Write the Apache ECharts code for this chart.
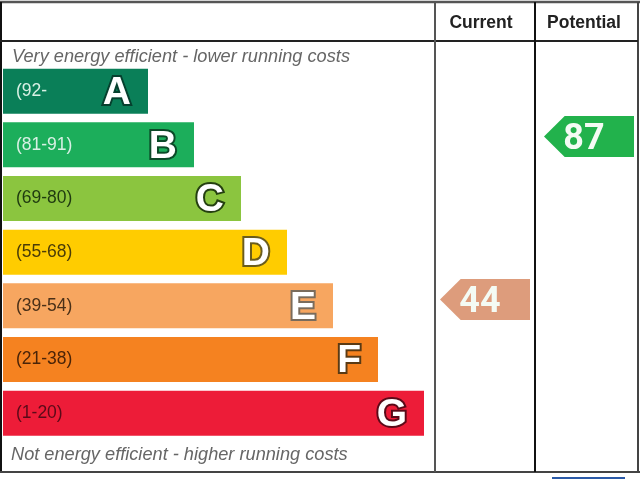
<!DOCTYPE html>
<html>
<head>
<meta charset="utf-8">
<style>
html, body { margin: 0; padding: 0; background: #fff; }
#chart { width: 640px; height: 479px; filter: blur(0.6px); }
</style>
<script src="https://cdn.jsdelivr.net/npm/echarts@6/dist/echarts.min.js"></script>
</head>
<body>
<div id="chart"></div>
<script>
// bands, top to bottom
var ranges = ['(92-', '(81-91)', '(69-80)', '(55-68)', '(39-54)', '(21-38)', '(1-20)'];
var letters = ['A', 'B', 'C', 'D', 'E', 'F', 'G'];
var barLengths = [145, 191, 238, 284, 330, 375, 421];
var bandColors = ['#0a7f58', '#1cae5b', '#8bc53f', '#ffcc00', '#f7a660', '#f58220', '#ed1c38'];
var rangeColors = ['#d8f0e4', '#d8f0e4', '#1f3a10', '#4a3c08', '#4a3018', '#4a2408', '#5a0a18'];
var letterEdges = ['#06402e', '#0b4a28', '#243f10', '#6a5c1c', '#7a6c5c', '#5a3a14', '#5a0a18'];

// rating columns
var columns = ['Current', 'Potential'];
var currentRating = [44, null];
var potentialRating = [null, 87];

var textTop = 'Very energy efficient - lower running costs';
var textBottom = 'Not energy efficient - higher running costs';

var arrow = 'path://M0,50 L23,0 L100,0 L100,100 L23,100 Z';
var frameDark = '#222';

var bars = [];
for (var i = 0; i < barLengths.length; i++) {
    bars.push({
        value: barLengths[i],
        itemStyle: {color: bandColors[i]},
        label: {textBorderColor: letterEdges[i]}
    });
}

function frameLine(x1, y1, x2, y2, color, width) {
    return {
        type: 'line',
        silent: true,
        shape: {x1: x1, y1: y1, x2: x2, y2: y2},
        style: {stroke: color, lineWidth: width}
    };
}

function ratingSeries(name, data, color, offsetX) {
    return {
        name: name,
        type: 'scatter',
        xAxisIndex: 1,
        yAxisIndex: 1,
        data: data,
        symbol: arrow,
        symbolSize: [90, 41],
        symbolOffset: [offsetX, 0],
        itemStyle: {color: color, opacity: 1},
        label: {
            show: true,
            position: 'inside',
            offset: [-5, 3],
            color: '#f4fbf4',
            fontFamily: 'Roboto, Liberation Sans',
            fontWeight: 'bold',
            fontSize: 36,
            formatter: function (p) { return p.value; }
        }
    };
}

var titleStyle = {fontFamily: 'Liberation Sans', fontStyle: 'italic', fontWeight: 'normal', fontSize: 18.2, color: '#666'};

var chart = echarts.init(document.getElementById('chart'), null, {renderer: 'canvas'});
chart.setOption({
    animation: false,
    backgroundColor: '#fff',
    title: [
        {text: textTop, left: 7, top: 43, textStyle: titleStyle},
        {text: textBottom, left: 6, top: 441, textStyle: titleStyle}
    ],
    grid: [
        {left: 3, top: 64.3, width: 432, height: 375.7},
        {left: 435, top: 2, width: 200, height: 470}
    ],
    xAxis: [
        {gridIndex: 0, type: 'value', min: 0, max: 432, show: false},
        {
            gridIndex: 1,
            type: 'category',
            position: 'top',
            data: columns,
            axisLine: {show: false},
            axisTick: {show: false},
            axisLabel: {
                inside: true,
                margin: 12,
                formatter: function (value, index) {
                    return '{h' + index + '|' + value + '}';
                },
                rich: {
                    h0: {color: '#222', fontFamily: 'Liberation Sans', fontWeight: 'bold', fontSize: 17.5, padding: [0, 8, 0, 0]},
                    h1: {color: '#222', fontFamily: 'Liberation Sans', fontWeight: 'bold', fontSize: 17.5, padding: [0, 2, 0, 0]}
                }
            },
            splitLine: {
                show: true,
                lineStyle: {color: ['#555', '#111', 'rgba(0,0,0,0)'], width: 2}
            }
        }
    ],
    yAxis: [
        {
            gridIndex: 0,
            type: 'category',
            inverse: true,
            data: ranges,
            z: 5,
            axisLine: {show: false},
            axisTick: {show: false},
            axisLabel: {
                inside: true,
                margin: 13,
                fontFamily: 'Liberation Sans',
                fontSize: 17.5,
                color: function (value, index) { return rangeColors[index]; }
            }
        },
        {gridIndex: 1, type: 'value', min: -1.5, max: 122.5, show: false}
    ],
    series: [
        {
            name: 'Band',
            type: 'bar',
            barWidth: 45,
            data: bars,
            label: {
                show: true,
                position: 'insideRight',
                distance: 17,
                offset: [0, 2],
                fontFamily: 'Liberation Sans',
                fontWeight: 'bold',
                fontSize: 39,
                color: '#fff',
                textBorderWidth: 4,
                formatter: function (p) { return letters[p.dataIndex]; }
            }
        },
        ratingSeries('Current', currentRating, '#dd9c7c', 0),
        ratingSeries('Potential', potentialRating, '#22b24c', 4)
    ],
    graphic: [
        frameLine(0, 2, 640, 2, '#555', 2.5),
        frameLine(1, 2, 1, 472, '#111', 2),
        frameLine(638, 2, 638, 472, '#444', 2),
        frameLine(0, 41, 638, 41, frameDark, 2),
        frameLine(0, 472, 640, 472, '#444', 2),
        {
            type: 'rect',
            silent: true,
            shape: {x: 552, y: 477, width: 73, height: 2},
            style: {fill: '#2a5aa8'}
        }
    ]
});
</script>
</body>
</html>
